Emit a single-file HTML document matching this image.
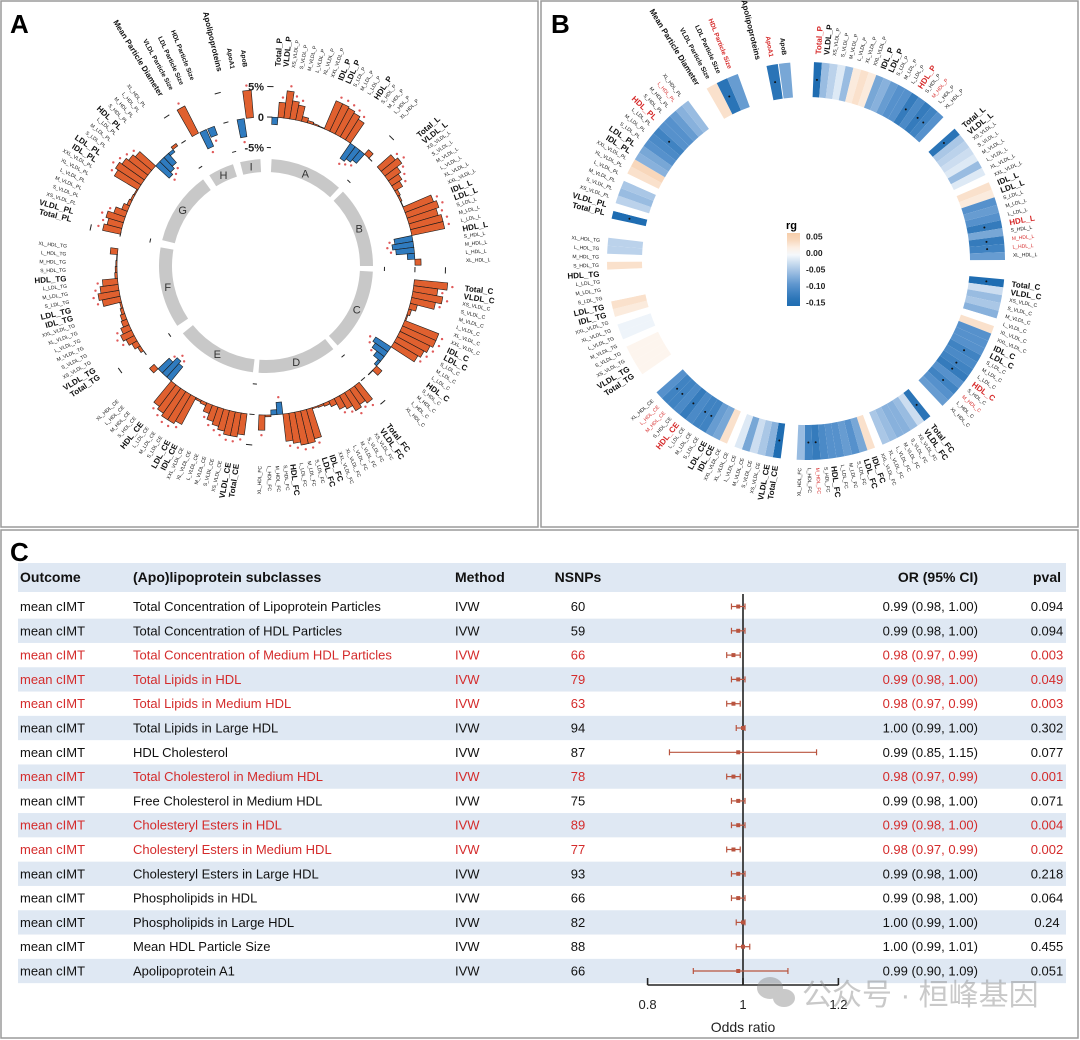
<!DOCTYPE html>
<html><head><meta charset="utf-8"><style>
html,body{margin:0;padding:0;background:#fff;}
svg{display:block;font-family:"Liberation Sans",sans-serif;}
</style></head><body>
<svg id="fig" width="1080" height="1040" viewBox="0 0 1080 1040" xmlns="http://www.w3.org/2000/svg">
<rect x="0" y="0" width="1080" height="1040" fill="#fff"/>
<rect x="1" y="1" width="537" height="526" fill="none" stroke="#9a9a9a" stroke-width="1.5"/>
<rect x="541" y="1" width="537" height="526" fill="none" stroke="#9a9a9a" stroke-width="1.5"/>
<rect x="1" y="530" width="1077" height="508" fill="none" stroke="#9a9a9a" stroke-width="1.5"/>
<text x="10" y="33" font-size="26" font-weight="bold">A</text>
<text x="551" y="33" font-size="26" font-weight="bold">B</text>
<text x="10" y="561" font-size="26" font-weight="bold">C</text>
<g id="pa"></g>
<g id="pb"></g>
<g id="pc"></g>
</svg>
<script>
// ---------- shared data ----------
const subPrefixes = ["Total_","VLDL_","XS_VLDL_","S_VLDL_","M_VLDL_","L_VLDL_","XL_VLDL_","XXL_VLDL_","IDL_","LDL_","S_LDL_","M_LDL_","L_LDL_","HDL_","S_HDL_","M_HDL_","L_HDL_","XL_HDL_"];
const groupSuffixes = ["P","L","C","FC","CE","TG","PL"];
const groupLetters = ["A","B","C","D","E","F","G","H","I"];
const sizeItems = ["VLDL Particle Size","LDL Particle Size","HDL Particle Size"];
const apoItems = ["ApoA1","ApoB"];
// Panel A: % change per trait (7 groups x 18 + 3 + 2)
const pctP  = [-1.2,2.5,4.5,3,2.5,0.8,0.4,0.2,0.1,5,5,4.8,4.5,4,-3,-2.5,-2,1];
const pctL  = [3,3.5,2.5,2,1.5,0.5,0.3,0.1,5,5.5,5,5.5,5.5,-3,-3.5,-3,-1.2,1];
const pctC  = [5.5,4,5,4,1.2,0.5,0.2,6,6,5.5,5,4.5,-3,-2.5,-1.5,-0.5,1.2,0.1];
const pctFC = [3.5,3,3.5,2.5,2,1,0.5,0.3,0.2,5,5.5,5.5,5,4.5,-2,-0.8,0.3,2.5];
const pctCE = [3.5,4,4,3.5,3,2.5,1.5,0.5,0.3,5,5.5,5.5,5,4.5,-3,-3.5,-2.5,1];
const pctTG = [0.5,1,1.5,2,1.5,1,0.8,0.5,0.3,3,3.5,3,2.5,0.4,0.3,0.2,0.1,1.2];
const pctPL = [3,2.5,3,2,1,0.5,0.3,0.2,4.5,5,4.5,4,3.5,-3,-2.5,-2,-0.5,0.5];
const pctSize = [5,-3,-1.5];
const pctApo = [-3,4.5];
// Panel B: genetic correlation rg
const rgP  = [-0.15,-0.06,-0.04,-0.02,-0.06,0.02,0.03,0.02,-0.08,-0.07,-0.09,-0.10,-0.10,-0.13,-0.11,-0.13,-0.12,-0.10];
const rgL  = [-0.14,-0.05,-0.04,-0.03,-0.02,-0.06,-0.02,0.00,0.03,0.02,-0.10,-0.09,-0.10,-0.13,-0.08,-0.13,-0.12,-0.09];
const rgC  = [-0.15,-0.03,-0.06,-0.05,-0.07,0.00,0.03,-0.10,-0.10,-0.10,-0.12,-0.11,-0.12,-0.13,-0.10,-0.12,-0.10,-0.09];
const rgFC = [-0.14,-0.03,-0.06,-0.07,-0.07,-0.06,-0.05,0.00,0.03,-0.08,-0.10,-0.09,-0.10,-0.10,-0.11,-0.13,-0.12,-0.06];
const rgCE = [-0.15,-0.07,-0.05,-0.03,-0.08,-0.02,0.00,0.03,-0.08,-0.09,-0.12,-0.12,-0.11,-0.13,-0.11,-0.12,-0.12,-0.10];
const rgTG = [0.01,0.01,0.01,0.01,0.00,-0.01,-0.01,0.00,0.02,0.03,0.00,0.00,0.00,0.00,0.03,0.00,-0.04,-0.04];
const rgPL = [-0.15,0.00,-0.04,-0.06,-0.05,0.00,0.03,0.04,-0.07,-0.08,-0.10,-0.11,-0.12,-0.10,-0.10,-0.09,-0.07,-0.06];
const rgSize = [0.03,-0.14,-0.09];
const rgApo = [-0.14,-0.08];
const rgTicks = [0.05,0.00,-0.05,-0.10,-0.15];
const redLabels = ["Total_P","HDL_P","M_HDL_P","HDL_L","M_HDL_L","L_HDL_L","HDL_C","M_HDL_C","M_HDL_FC","L_HDL_CE","M_HDL_CE","HDL_CE","L_HDL_PL","HDL_PL","HDL Particle Size","ApoA1"];

// ---------- layout (not data) ----------
const groupCenters = [23,69,116,162,208,256,303,335,352];
const NS="http://www.w3.org/2000/svg";
function mk(tag, attrs, parent){const e=document.createElementNS(NS,tag);for(const k in attrs)e.setAttribute(k,attrs[k]);parent.appendChild(e);return e;}
function pt(cx,cy,r,a){const t=a*Math.PI/180;return [cx+r*Math.sin(t),cy-r*Math.cos(t)];}
function sector(cx,cy,r0,r1,a0,a1){
  const p1=pt(cx,cy,r1,a0),p2=pt(cx,cy,r1,a1),p3=pt(cx,cy,r0,a1),p4=pt(cx,cy,r0,a0);
  const lg=(a1-a0)>180?1:0;
  return `M${p1[0]},${p1[1]}A${r1},${r1} 0 ${lg} 1 ${p2[0]},${p2[1]}L${p3[0]},${p3[1]}A${r0},${r0} 0 ${lg} 0 ${p4[0]},${p4[1]}Z`;
}
const pctGroups=[pctP,pctL,pctC,pctFC,pctCE,pctTG,pctPL];
const rgGroups=[rgP,rgL,rgC,rgFC,rgCE,rgTG,rgPL];
const items=[];
const STEP=2.3;
groupSuffixes.forEach((s,g)=>{
  subPrefixes.forEach((p,i)=>{
    const ang=groupCenters[g]+(i-(subPrefixes.length-1)/2)*STEP;
    items.push({name:p+s,ang,pct:pctGroups[g][i],rg:rgGroups[g][i],big:[0,1,8,9,13].includes(i),g});
  });
});
sizeItems.forEach((n,i)=>items.push({name:n,ang:groupCenters[7]+(i-1)*3.3,pct:pctSize[i],rg:rgSize[i],big:false,mid:true,g:7}));
apoItems.forEach((n,i)=>items.push({name:n,ang:groupCenters[8]+(i-0.5)*3.6,pct:pctApo[i],rg:rgApo[i],big:false,mid:true,g:8}));
const headers=[{name:"Mean Particle Diameter",ang:groupCenters[7]-6.6},{name:"Apolipoproteins",ang:groupCenters[8]-5.4}];

function label(parent,cx,cy,r,ang,txt,size,bold,color,nm){
  const [x,y]=pt(cx,cy,r,ang);
  const a=((ang%360)+360)%360;
  const right=a<180;
  const rot=right?a-90:a+90;
  const t=mk("text",{x:x,y:y,"font-size":size,"font-weight":bold?"bold":"normal",fill:color,"text-anchor":right?"start":"end","dominant-baseline":"central",transform:`rotate(${rot} ${x} ${y})`},parent);
  t.textContent=txt;
  
  
}

// ---------- Panel A ----------
(function(){
  const g=document.getElementById('pa');
  const cx=266,cy=266,R0=149,K=6.1;
  const rScale=v=>R0+v*K;
  const spans=[[3,43],[46,90],[93,138],[141,184],[187,231],[236,280],[284,324],[328,342],[346,357]];
  spans.forEach((s,i)=>{
    const p=mk("path",{d:sector(cx,cy,94,107,s[0],s[1]),fill:"#c8c8c8"},g);
    
    
    const m=(s[0]+s[1])/2;const [x,y]=pt(cx,cy,100.5,m);
    const t=mk("text",{x:x,y:y+4,"font-size":11,"text-anchor":"middle",fill:"#333"},g);
    t.textContent=groupLetters[i];
    
    
  });
  spans.forEach((s,i)=>{
    [rScale(-5),rScale(0),rScale(5)].forEach(r=>{
      const a=s[0]-1.6;const p1=pt(cx,cy,r,a-1),p2=pt(cx,cy,r,a+1);
      const l=mk("line",{x1:p1[0],y1:p1[1],x2:p2[0],y2:p2[1],stroke:"#222","stroke-width":1},g);
      
      
    });
  });
  [["5%",5],["0",0],["-5%",-5]].forEach(([tx,v])=>{
    const t=mk("text",{x:cx-2,y:cy-rScale(v)+4,"font-size":11,"font-weight":"bold","text-anchor":"end",fill:"#222"},g);
    t.textContent=tx;
    
    
  });
  items.forEach(it=>{
    const w=(it.g>=7?2.8:STEP)*0.5;
    const r1=rScale(it.pct);
    const p=mk("path",{d:sector(cx,cy,Math.min(R0,r1),Math.max(R0,r1),it.ang-w,it.ang+w),fill:it.pct>=0?"#e0602f":"#2f7bbf",stroke:"#1a1a1a","stroke-width":0.6},g);
    
    
    if(Math.abs(it.pct)>=1.5){
      const rr=it.pct>0?r1+5:r1-5;const [x,y]=pt(cx,cy,rr,it.ang);
      const c=mk("circle",{cx:x,cy:y,r:1.2,fill:"#e05a5a"},g);
      
      
    }
    label(g,cx,cy,200,it.ang,it.name,it.big?8:(it.mid?6.5:5),it.big||it.mid,"#111",'trait-label');
  });
  headers.forEach(h=>label(g,cx,cy,200,h.ang,h.name,8,true,"#111",'header-label'));
})();

// ---------- Panel B ----------
function rgColor(v){
  const stops=[[-0.15,[31,109,178]],[-0.10,[86,145,204]],[-0.05,[170,199,230]],[0,[255,255,255]],[0.05,[246,205,170]]];
  v=Math.max(-0.15,Math.min(0.05,v));
  for(let i=0;i<stops.length-1;i++){
    const [a,ca]=stops[i],[b,cb]=stops[i+1];
    if(v>=a&&v<=b){const t=(v-a)/(b-a);return `rgb(${ca.map((c,k)=>Math.round(c+(cb[k]-c)*t)).join(',')})`;}
  }
  return "#fff";
}
(function(){
  const g=document.getElementById('pb');
  const cx=806,cy=261,r0=164,r1=199;
  items.forEach(it=>{
    const w=(it.g>=7?3.3:STEP)/2;
    const p=mk("path",{d:sector(cx,cy,r0,r1,it.ang-w,it.ang+w),fill:rgColor(it.rg)},g);
    
    
    if(it.rg<=-0.12){
      const [x,y]=pt(cx,cy,(r0+r1)/2,it.ang);
      const c=mk("circle",{cx:x,cy:y,r:1,fill:"#111"},g);
      
      
    }
    label(g,cx,cy,207,it.ang,it.name,it.big?8:(it.mid?6.5:5),it.big||it.mid,redLabels.includes(it.name)?"#d62a2a":"#111",'trait-label');
  });
  headers.forEach(h=>label(g,cx,cy,207,h.ang,h.name,8,true,"#111",'header-label'));
  const cbTop=233,cbBot=306,vTop=0.06,vBot=-0.16;
  const y=v=>cbTop+(vTop-v)/(vTop-vBot)*(cbBot-cbTop);
  const defs=mk("defs",{},g);
  const lg=mk("linearGradient",{id:"cbg",x1:0,y1:0,x2:0,y2:1},defs);
  for(let i=0;i<=10;i++){const v=vTop-(vTop-vBot)*i/10;mk("stop",{offset:i/10,"stop-color":rgColor(v)},lg);}
  const r=mk("rect",{x:787,y:cbTop,width:13,height:cbBot-cbTop,fill:"url(#cbg)"},g);
  
  
  const t=mk("text",{x:786,y:229,"font-size":11,"font-weight":"bold"},g);t.textContent="rg";
  
  
  rgTicks.forEach(v=>{
    const tt=mk("text",{x:806,y:y(v)+3,"font-size":8.5,"font-weight":"bold",fill:"#222"},g);
    tt.textContent=v.toFixed(2);
    
    
  });
})();

// ---------- Panel C ----------
const fpNames=["Total Concentration of Lipoprotein Particles","Total Concentration of HDL Particles","Total Concentration of Medium HDL Particles","Total Lipids in HDL","Total Lipids in Medium HDL","Total Lipids in Large HDL","HDL Cholesterol","Total Cholesterol in Medium HDL","Free Cholesterol in Medium HDL","Cholesteryl Esters in HDL","Cholesteryl Esters in Medium HDL","Cholesteryl Esters in Large HDL","Phospholipids in HDL","Phospholipids in Large HDL","Mean HDL Particle Size","Apolipoprotein A1"];
const fpNsnp=[60,59,66,79,63,94,87,78,75,89,77,93,66,82,88,66];
const fpOR=[0.99,0.99,0.98,0.99,0.98,1.00,0.99,0.98,0.99,0.99,0.98,0.99,0.99,1.00,1.00,0.99];
const fpLo=[0.98,0.98,0.97,0.98,0.97,0.99,0.85,0.97,0.98,0.98,0.97,0.98,0.98,0.99,0.99,0.90];
const fpHi=[1.00,1.00,0.99,1.00,0.99,1.00,1.15,0.99,1.00,1.00,0.99,1.00,1.00,1.00,1.01,1.09];
const fpP=["0.094","0.094","0.003","0.049","0.003","0.302","0.077","0.001","0.071","0.004","0.002","0.218","0.064","0.24","0.455","0.051"];
const fpSig=[0,0,1,1,1,0,0,1,0,1,1,0,0,0,0,0];
const orTicks=[0.8,1,1.2];
(function(){
  const g=document.getElementById('pc');
  const x=v=>743+(v-1)*477;
  const row0=606.5,step=24.3;
  const hb=mk("rect",{x:18,y:563,width:1048,height:29,fill:"#dfe8f3"},g);
  
  
  fpNames.forEach((n,i)=>{
    if(i%2===1){const b=mk("rect",{x:18,y:row0+i*step-step/2,width:1048,height:step,fill:"#dfe8f3"},g);
      
      }
  });
  const hdr=[["Outcome",20,"start"],["(Apo)lipoprotein subclasses",133,"start"],["Method",455,"start"],["NSNPs",578,"middle"],["OR (95% CI)",978,"end"],["pval",1047,"middle"]];
  hdr.forEach(([t,hx,an])=>{const e=mk("text",{x:hx,y:582,"font-size":14,"font-weight":"bold","text-anchor":an,fill:"#111"},g);e.textContent=t;
    
    });
  const vl=mk("line",{x1:x(1),y1:594,x2:x(1),y2:985,stroke:"#222","stroke-width":1.6},g);
  
  
  const ax=mk("line",{x1:x(orTicks[0]),y1:985,x2:x(orTicks[orTicks.length-1]),y2:985,stroke:"#222","stroke-width":1.6},g);
  
  
  orTicks.forEach(v=>{
    const tk=mk("line",{x1:x(v),y1:985,x2:x(v),y2:978,stroke:"#222","stroke-width":1.6},g);
    
    
    const tl=mk("text",{x:x(v),y:1009,"font-size":13,"text-anchor":"middle",fill:"#222"},g);tl.textContent=String(v);
    
    
  });
  const at=mk("text",{x:x(1),y:1032,"font-size":14,"text-anchor":"middle",fill:"#222"},g);at.textContent="Odds ratio";
  
  
  fpNames.forEach((n,i)=>{
    const cy=row0+i*step, col=fpSig[i]?"#d42b2b":"#111", ty=cy+4.5;
    const cells=[["mean cIMT",20,"start"],[n,133,"start"],["IVW",455,"start"],[String(fpNsnp[i]),578,"middle"],[`${fpOR[i].toFixed(2)} (${fpLo[i].toFixed(2)}, ${fpHi[i].toFixed(2)})`,978,"end"],[fpP[i],1047,"middle"]];
    cells.forEach(([t,tx,an])=>{const e=mk("text",{x:tx,y:ty,"font-size":13,"text-anchor":an,fill:col},g);e.textContent=t;
      
      });
    const ci=mk("line",{x1:x(fpLo[i])-2,y1:cy,x2:x(fpHi[i])+2,y2:cy,stroke:"#b9543f","stroke-width":1.2},g);
    
    
    [fpLo[i],fpHi[i]].forEach((v,j)=>{const c=mk("line",{x1:x(v)+(j?2:-2),y1:cy-3,x2:x(v)+(j?2:-2),y2:cy+3,stroke:"#b9543f","stroke-width":1.2},g);
      
      });
    const m=mk("rect",{x:x(fpOR[i])-2,y:cy-2,width:4,height:4,fill:"#b9543f"},g);
    
    
  });
  const wm=mk("g",{opacity:0.45},g);
  
  
  mk("ellipse",{cx:770,cy:988,rx:13,ry:11,fill:"#888"},wm);
  mk("ellipse",{cx:784,cy:998,rx:11,ry:9,fill:"#888"},wm);
  const wt=mk("text",{x:802,y:1005,"font-size":30,fill:"#888","font-family":"\"Liberation Sans\",\"Noto Sans CJK SC\",sans-serif"},wm);
  wt.textContent="公众号 · 桓峰基因";
})();
</script>
</body></html>
